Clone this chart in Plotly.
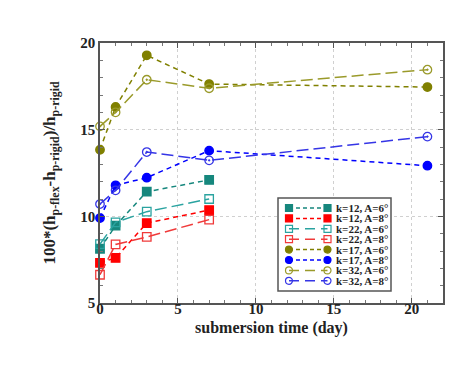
import plotly.graph_objects as go

days5 = [0, 1, 3, 7, 21]
days4 = [0, 1, 3, 7]

k12_a6 = [8.13, 9.46, 11.42, 12.1]
k12_a8 = [7.32, 7.6, 9.61, 10.36]
k22_a6 = [8.4, 9.65, 10.27, 11.0]
k22_a8 = [6.63, 8.38, 8.81, 9.81]
k17_a6 = [13.84, 16.31, 19.29, 17.63, 17.46]
k17_a8 = [9.9, 11.79, 12.23, 13.79, 12.92]
k32_a6 = [15.19, 16.0, 17.88, 17.39, 18.46]
k32_a8 = [10.71, 11.5, 13.71, 13.23, 14.6]

labels = ["k=12, A=6°", "k=12, A=8°", "k=22, A=6°", "k=22, A=8°",
          "k=17, A=6°", "k=17, A=8°", "k=32, A=6°", "k=32, A=8°"]

series = [
    (labels[0], days4, k12_a6, "#16877d", "square", "5px,4px"),
    (labels[1], days4, k12_a8, "#ff0000", "square", "5px,4px"),
    (labels[2], days4, k22_a6, "#2aa3a0", "square-open", "12px,5px"),
    (labels[3], days4, k22_a8, "#f03a3a", "square-open", "12px,5px"),
    (labels[4], days5, k17_a6, "#808000", "circle", "5px,4px"),
    (labels[5], days5, k17_a8, "#0000ff", "circle", "5px,4px"),
    (labels[6], days5, k32_a6, "#9a9a2a", "circle-open-dot", "12px,5px"),
    (labels[7], days5, k32_a8, "#3535e6", "circle-open-dot", "12px,5px"),
]

font = "Liberation Serif"
fig = go.Figure()
for name, xs, ys, col, sym, dash in series:
    fig.add_trace(go.Scatter(
        x=xs, y=ys, name=name, mode="lines+markers",
        line=dict(color=col, width=1.5, dash=dash),
        marker=dict(symbol=sym, size=8.5, color=col,
                    line=dict(color=col, width=1.3)),
        cliponaxis=False, showlegend=False,
    ))

# custom compact legend (layout geometry in pixels of the 474x366 page)
L, T, PW, PH = 92, 35, 343, 260
def px(xp):
    return (xp - L) / PW
def py(yp):
    return (T + PH - yp) / PH

shapes = [dict(type="rect", xref="paper", yref="paper",
               x0=px(270), x1=px(383), y0=py(190), y1=py(283),
               fillcolor="white", line=dict(color="#555555", width=1.5), layer="above")]
annotations = []
for i, (name, xs, ys, col, sym, dash) in enumerate(series):
    yc = py(200 + i * 10.4)
    xl, xr = px(281), px(319.5)
    ldash = "4px,3px" if dash.startswith("5") else "10px,6px"
    shapes.append(dict(type="line", xref="paper", yref="paper",
                       x0=xl, x1=xr, y0=yc, y1=yc,
                       line=dict(color=col, width=1.5, dash=ldash), layer="above"))
    filled = "open" not in sym
    stype = "rect" if sym.startswith("square") else "circle"
    for xa in (xl, xr):
        shapes.append(dict(type=stype, xref="paper", yref="paper",
                           xsizemode="pixel", ysizemode="pixel",
                           xanchor=xa, yanchor=yc, x0=-3.5, x1=3.5, y0=-3.5, y1=3.5,
                           fillcolor=col if filled else "rgba(0,0,0,0)",
                           line=dict(color=col, width=1.2), layer="above"))
    annotations.append(dict(text="<b>%s</b>" % name, xref="paper", yref="paper",
                            x=px(327), y=yc, xanchor="left", yanchor="middle",
                            showarrow=False, borderpad=0,
                            font=dict(family=font, size=11, color="#222222")))

axis_common = dict(
    showline=True, linecolor="#555555", linewidth=1.5, mirror="ticks",
    ticks="inside", ticklen=5, tickcolor="#555555",
    showgrid=True, gridcolor="#d0d0d0", griddash="dot", gridwidth=1,
    zeroline=False,
    tickfont=dict(family=font, size=15, color="#222222", weight="bold"),
    minor=dict(ticks="inside", ticklen=3, tickcolor="#777777", showgrid=False, dtick=1),
)

fig.update_xaxes(range=[0, 22], dtick=5, tick0=0, ticklabelstandoff=-9,
                 title=dict(text="<b>submersion time (day)</b>",
                            font=dict(family=font, size=16, color="#222222"), standoff=6),
                 **axis_common)
fig.update_yaxes(range=[5, 20], dtick=5, tick0=5,
                 title=dict(text="<b>100*(h<sub>p-flex</sub>-h<sub>p-rigid</sub>)/h<sub>p-rigid</sub></b>",
                            font=dict(family=font, size=17, color="#222222"), standoff=20),
                 **axis_common)

fig.update_layout(
    width=474, height=366,
    margin=dict(l=L, r=474 - L - PW, t=T, b=366 - T - PH),
    plot_bgcolor="white", paper_bgcolor="white",
    shapes=shapes, annotations=annotations,
    showlegend=False,
)

fig.write_html("out.html")
